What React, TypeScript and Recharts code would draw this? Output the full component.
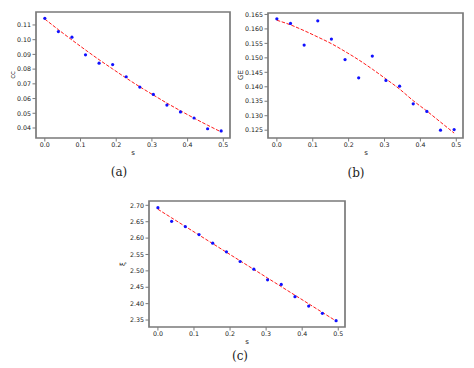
import {
  ComposedChart,
  Line,
  ReferenceArea,
  Scatter,
  XAxis,
  YAxis,
} from "recharts";

const sValues = [0, 0.038, 0.076, 0.114, 0.152, 0.19, 0.228, 0.266, 0.304, 0.342, 0.38, 0.418, 0.456, 0.494];
const sTicks = [0, 0.1, 0.2, 0.3, 0.4, 0.5];

const ccValues = [0.1145, 0.1055, 0.1017, 0.0897, 0.084, 0.0831, 0.0748, 0.0678, 0.0628, 0.0556, 0.0509, 0.0468, 0.0395, 0.038];
const ccFit = [0.114, 0.1068, 0.0998, 0.093, 0.0864, 0.0801, 0.0739, 0.068, 0.0624, 0.0569, 0.0517, 0.0467, 0.0419, 0.0373];
const ccTicks = [0.04, 0.05, 0.06, 0.07, 0.08, 0.09, 0.1, 0.11];

const geValues = [0.1635, 0.1619, 0.1544, 0.1628, 0.1565, 0.1494, 0.1431, 0.1506, 0.1422, 0.1402, 0.1341, 0.1315, 0.125, 0.1252];
const geFit = [0.163, 0.1614, 0.1594, 0.1572, 0.1549, 0.1522, 0.1493, 0.1461, 0.1427, 0.1392, 0.1352, 0.1316, 0.1278, 0.124];
const geTicks = [0.125, 0.13, 0.135, 0.14, 0.145, 0.15, 0.155, 0.16, 0.165];

const xiValues = [2.6929, 2.6513, 2.6351, 2.6107, 2.5844, 2.558, 2.5286, 2.5053, 2.4728, 2.4586, 2.4211, 2.3927, 2.3704, 2.3481];
const xiFit = [2.688, 2.6618, 2.6355, 2.6093, 2.5831, 2.5568, 2.5306, 2.5044, 2.4782, 2.4519, 2.4257, 2.3995, 2.3732, 2.347];
const xiTicks = [2.35, 2.4, 2.45, 2.5, 2.55, 2.6, 2.65, 2.7];

const X_DOMAIN: [number, number] = [-0.0247, 0.5187];
const FRAME = "#7a7a7a";
const TEXT = "#222";
const FONT = "'DejaVu Sans', sans-serif";
const TICK_FONT = 6.3;

function Dot(props: any) {
  const { cx, cy } = props;
  return <circle cx={cx} cy={cy} r={1.6} fill="#1010ff" />;
}

type PanelProps = {
  left: number;
  top: number;
  width: number;
  height: number;
  values: number[];
  fit: number[];
  yTicks: number[];
  yDomain: [number, number];
  digits: number;
};

function Panel({ left, top, width, height, values, fit, yTicks, yDomain, digits }: PanelProps) {
  const data = sValues.map((s, i) => ({ s, y: values[i], fit: fit[i] }));
  const axisW = 45;
  const axisH = 28;
  return (
    <div style={{ position: "absolute", left: left - axisW, top: top - 5 }}>
      <ComposedChart
        width={axisW + width + 8}
        height={5 + height + axisH}
        data={data}
        margin={{ top: 5, right: 8, bottom: 0, left: 0 }}
        style={{ fontFamily: FONT }}
      >
        <XAxis
          type="number"
          dataKey="s"
          domain={X_DOMAIN}
          ticks={sTicks}
          allowDataOverflow
          tickFormatter={(v: number) => v.toFixed(1)}
          height={axisH}
          tickSize={3.5}
          tickMargin={1.5}
          axisLine={false}
          tickLine={{ stroke: FRAME, strokeWidth: 1 }}
          tick={{ fontSize: TICK_FONT, fill: TEXT }}
        />
        <YAxis
          type="number"
          domain={yDomain}
          ticks={yTicks}
          allowDataOverflow
          tickFormatter={(v: number) => v.toFixed(digits)}
          width={axisW}
          tickSize={3.5}
          tickMargin={1.5}
          axisLine={false}
          tickLine={{ stroke: FRAME, strokeWidth: 1 }}
          tick={{ fontSize: TICK_FONT, fill: TEXT }}
        />
        <ReferenceArea
          x1={X_DOMAIN[0]}
          x2={X_DOMAIN[1]}
          y1={yDomain[0]}
          y2={yDomain[1]}
          fill="none"
          stroke={FRAME}
          strokeWidth={1.7}
          fillOpacity={0}
        />
        <Scatter dataKey="y" shape={<Dot />} isAnimationActive={false} />
        <Line
          type="monotone"
          dataKey="fit"
          stroke="#ff1a1a"
          strokeWidth={1}
          strokeDasharray="3.5 1.6"
          dot={false}
          isAnimationActive={false}
        />
      </ComposedChart>
    </div>
  );
}

function Text({ x, y, children, rotate, size, serif }: any) {
  return (
    <div
      style={{
        position: "absolute",
        left: x,
        top: y,
        transform: `translate(-50%, -50%)${rotate ? " rotate(-90deg)" : ""}`,
        fontFamily: serif ? "'DejaVu Serif', 'Liberation Serif', serif" : FONT,
        fontSize: size,
        color: TEXT,
        whiteSpace: "nowrap",
        lineHeight: 1,
      }}
    >
      {children}
    </div>
  );
}

export default function App() {
  return (
    <div
      style={{
        position: "absolute",
        left: 0,
        top: 0,
        width: 474,
        height: 368,
        background: "#fff",
        overflow: "hidden",
      }}
    >
      <Panel left={36} top={12} width={194} height={126} values={ccValues} fit={ccFit} yTicks={ccTicks} yDomain={[0.0332, 0.1188]} digits={2} />
      <Panel left={268} top={13} width={195} height={125} values={geValues} fit={geFit} yTicks={geTicks} yDomain={[0.1223, 0.1655]} digits={3} />
      <Panel left={149} top={201} width={196} height={126} values={xiValues} fit={xiFit} yTicks={xiTicks} yDomain={[2.3287, 2.7132]} digits={2} />

      <Text x={133} y={153} size={7}>s</Text>
      <Text x={13} y={75} size={7} rotate>cc</Text>
      <Text x={366} y={153} size={7}>s</Text>
      <Text x={241} y={75} size={7} rotate>GE</Text>
      <Text x={247} y={342} size={7}>s</Text>
      <Text x={123} y={264} size={7} rotate>ξ</Text>

      <Text x={119} y={172} size={12} serif>(a)</Text>
      <Text x={356} y={173} size={12} serif>(b)</Text>
      <Text x={240} y={356} size={12} serif>(c)</Text>
    </div>
  );
}
